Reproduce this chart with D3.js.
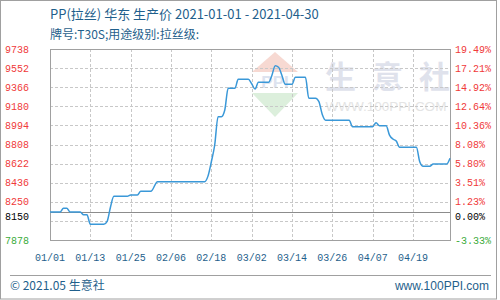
<!DOCTYPE html>
<html lang="zh">
<head>
  <meta charset="UTF-8">
  <title>PP(拉丝) 华东 生产价</title>
  <style>
    body { margin: 0; background: #fff; }
    .mono { font-family: "Liberation Mono", "DejaVu Sans Mono", monospace; font-size: 10px; }
    .cjk { font-family: "Noto Sans CJK SC", sans-serif; }
  </style>
</head>
<body>
  <svg id="chart"></svg>

  <script src="https://d3js.org/d3.v7.min.js"></script>
  <script>
    // price points (days where the curve turns), yuan/ton
    const dates = [
      "2021-01-01","2021-01-04","2021-01-05","2021-01-06","2021-01-07","2021-01-10","2021-01-11","2021-01-12",
      "2021-01-13","2021-01-17","2021-01-18","2021-01-19","2021-01-20","2021-01-24","2021-01-25","2021-01-27",
      "2021-01-28","2021-01-31","2021-02-02","2021-02-16","2021-02-17","2021-02-18","2021-02-19","2021-02-20",
      "2021-02-21","2021-02-22","2021-02-23","2021-02-25","2021-02-26","2021-03-01","2021-03-02","2021-03-03",
      "2021-03-04","2021-03-07","2021-03-08","2021-03-09","2021-03-10","2021-03-11","2021-03-12","2021-03-14",
      "2021-03-15","2021-03-18","2021-03-19","2021-03-21","2021-03-22","2021-03-23","2021-03-24","2021-03-31",
      "2021-04-01","2021-04-07","2021-04-08","2021-04-09","2021-04-11","2021-04-12","2021-04-13","2021-04-14",
      "2021-04-15","2021-04-20","2021-04-21","2021-04-22","2021-04-24","2021-04-25","2021-04-29","2021-04-30"
    ];
    const prices = [
      8150, 8150, 8187, 8187, 8150, 8150, 8124, 8124,
      8031, 8031, 8060, 8200, 8303, 8303, 8316, 8316,
      8352, 8352, 8446, 8446, 8500, 8640, 8803, 9079,
      9079, 9144, 9355, 9355, 9443, 9443, 9400, 9348,
      9413, 9413, 9480, 9575, 9560, 9480, 9394, 9394,
      9462, 9462, 9258, 9258, 9225, 9100, 9044, 9044,
      8981, 8981, 9020, 8991, 8991, 8900, 8861, 8842,
      8781, 8781, 8640, 8596, 8596, 8618, 8618, 8674
    ];

    const basePrice = 8150;
    const priceTicks = [9738, 9552, 9366, 9180, 8994, 8808, 8622, 8436, 8250, 8064, 7878];
    const leftLabels = ["9738", "9552", "9366", "9180", "8994", "8808", "8622", "8436", "8250", "", "7878"];
    const rightLabels = ["19.49%", "17.21%", "14.92%", "12.64%", "10.36%", "8.08%", "5.80%", "3.51%", "1.23%", "", "-3.33%"];
    const dateTicks = ["2021-01-01","2021-01-13","2021-01-25","2021-02-06","2021-02-18",
                       "2021-03-02","2021-03-14","2021-03-26","2021-04-07","2021-04-19"];

    const W = 500, H = 300;
    const plotL = 50, plotR = 450, plotT = 49, plotB = 240;
    const parse = d3.timeParse("%Y-%m-%d");
    const fmt = d3.timeFormat("%m/%d");
    const textBlue = "#1f5f8c";

    const svg = d3.select("#chart")
      .attr("width", W)
      .attr("height", H);

    svg.append("rect")
      .attr("x", 0.5).attr("y", 0.5)
      .attr("width", 496).attr("height", 298.5)
      .attr("fill", "#fff").attr("stroke", "#a0a0a0");

    const x = d3.scaleTime()
      .domain([parse("2021-01-01"), parse("2021-04-30")])
      .range([plotL, plotR]);

    const y = d3.scaleLinear()
      .domain([7878, 9738])
      .range([plotB, plotT]);

    // watermark
    const wm = svg.append("g");
    wm.append("path")
      .attr("d", "M275,52 L298,72 L252,72 Z")
      .attr("fill", "#f7d9d2");
    wm.append("path")
      .attr("d", "M252,93 L298,93 L275,117 Z")
      .attr("fill", "#dcefdc");
    wm.append("text")
      .attr("x", 275).attr("y", 88)
      .attr("text-anchor", "middle")
      .attr("font-family", "Liberation Sans, sans-serif")
      .attr("font-size", 17).attr("font-weight", "bold")
      .attr("fill", "#dde3ef")
      .text("PPI");
    wm.append("text")
      .attr("class", "cjk")
      .attr("y", 88)
      .attr("font-size", 31).attr("font-weight", "bold")
      .attr("fill", "#dfe2ec")
      .selectAll("tspan")
      .data(["生", "意", "社"])
      .join("tspan")
      .attr("x", (d, i) => 325 + i * 47)
      .text(d => d);
    wm.append("text")
      .attr("x", 386).attr("y", 111)
      .attr("text-anchor", "middle")
      .attr("font-family", "Liberation Sans, sans-serif")
      .attr("font-size", 13.5)
      .attr("fill", "#e4e4e4")
      .text("WWW.100PPI.COM");

    // grid
    svg.append("g")
      .selectAll("line")
      .data(priceTicks.slice(1, -1))
      .join("line")
      .attr("x1", plotL).attr("x2", plotR)
      .attr("y1", d => Math.round(y(d)) + 0.5)
      .attr("y2", d => Math.round(y(d)) + 0.5)
      .attr("stroke", "#c8c8c8").attr("stroke-dasharray", "3,2");

    svg.append("g")
      .selectAll("line")
      .data(dateTicks.slice(1))
      .join("line")
      .attr("x1", d => Math.round(x(parse(d))) + 0.5)
      .attr("x2", d => Math.round(x(parse(d))) + 0.5)
      .attr("y1", plotT).attr("y2", plotB)
      .attr("stroke", "#c8c8c8").attr("stroke-dasharray", "3,2");

    // base line
    svg.append("line")
      .attr("x1", plotL).attr("x2", plotR)
      .attr("y1", Math.round(y(basePrice)) + 0.5)
      .attr("y2", Math.round(y(basePrice)) + 0.5)
      .attr("stroke", "#8c8c8c");

    svg.append("rect")
      .attr("x", plotL + 0.5).attr("y", plotT + 0.5)
      .attr("width", plotR - plotL).attr("height", plotB - plotT)
      .attr("fill", "none").attr("stroke", "#a0a0a0");

    // price line
    const line = d3.line()
      .x((d, i) => x(parse(dates[i])))
      .y(d => y(d))
      .curve(d3.curveMonotoneX);

    svg.append("path")
      .datum(prices)
      .attr("d", line)
      .attr("fill", "none")
      .attr("stroke", "#3a98d8")
      .attr("stroke-width", 1.5);

    // y labels
    const labelColor = d => d > basePrice ? "#f03a3a" : "#3aac3a";

    svg.append("g")
      .selectAll("text")
      .data(priceTicks)
      .join("text")
      .attr("class", "mono")
      .attr("x", 5)
      .attr("y", d => y(d))
      .attr("dy", "0.35em")
      .attr("fill", labelColor)
      .text((d, i) => leftLabels[i]);

    svg.append("g")
      .selectAll("text")
      .data(priceTicks)
      .join("text")
      .attr("class", "mono")
      .attr("x", 455)
      .attr("y", d => y(d))
      .attr("dy", "0.35em")
      .attr("fill", labelColor)
      .text((d, i) => rightLabels[i]);

    svg.append("text")
      .attr("class", "mono")
      .attr("x", 5).attr("y", y(basePrice) + 4)
      .attr("dy", "0.35em")
      .attr("fill", "#000")
      .text(basePrice);

    svg.append("text")
      .attr("class", "mono")
      .attr("x", 455).attr("y", y(basePrice) + 4)
      .attr("dy", "0.35em")
      .attr("fill", "#000")
      .text("0.00%");

    // x labels
    svg.append("g")
      .selectAll("text")
      .data(dateTicks)
      .join("text")
      .attr("class", "mono")
      .attr("x", d => x(parse(d)))
      .attr("y", 257)
      .attr("dy", "0.35em")
      .attr("text-anchor", "middle")
      .attr("fill", textBlue)
      .text(d => fmt(parse(d)));

    // titles
    svg.append("text")
      .attr("class", "cjk")
      .attr("x", 50).attr("y", 19)
      .attr("font-size", 13)
      .attr("fill", textBlue)
      .text("PP(拉丝) 华东 生产价 2021-01-01 - 2021-04-30");

    svg.append("text")
      .attr("class", "cjk")
      .attr("x", 50).attr("y", 38.5)
      .attr("font-size", 12)
      .attr("fill", textBlue)
      .text("牌号:T30S;用途级别:拉丝级:");

    // footer
    svg.append("line")
      .attr("x1", 10).attr("x2", 491)
      .attr("y1", 275.5).attr("y2", 275.5)
      .attr("stroke", "#a0a0a0");

    svg.append("text")
      .attr("class", "cjk")
      .attr("x", 10).attr("y", 290)
      .attr("font-size", 12)
      .attr("fill", textBlue)
      .text("© 2021.05 生意社");

    svg.append("text")
      .attr("x", 489).attr("y", 290)
      .attr("text-anchor", "end")
      .attr("font-family", "Liberation Sans, sans-serif")
      .attr("font-size", 12)
      .attr("fill", textBlue)
      .text("www.100PPI.com");
  </script>
</body>
</html>
